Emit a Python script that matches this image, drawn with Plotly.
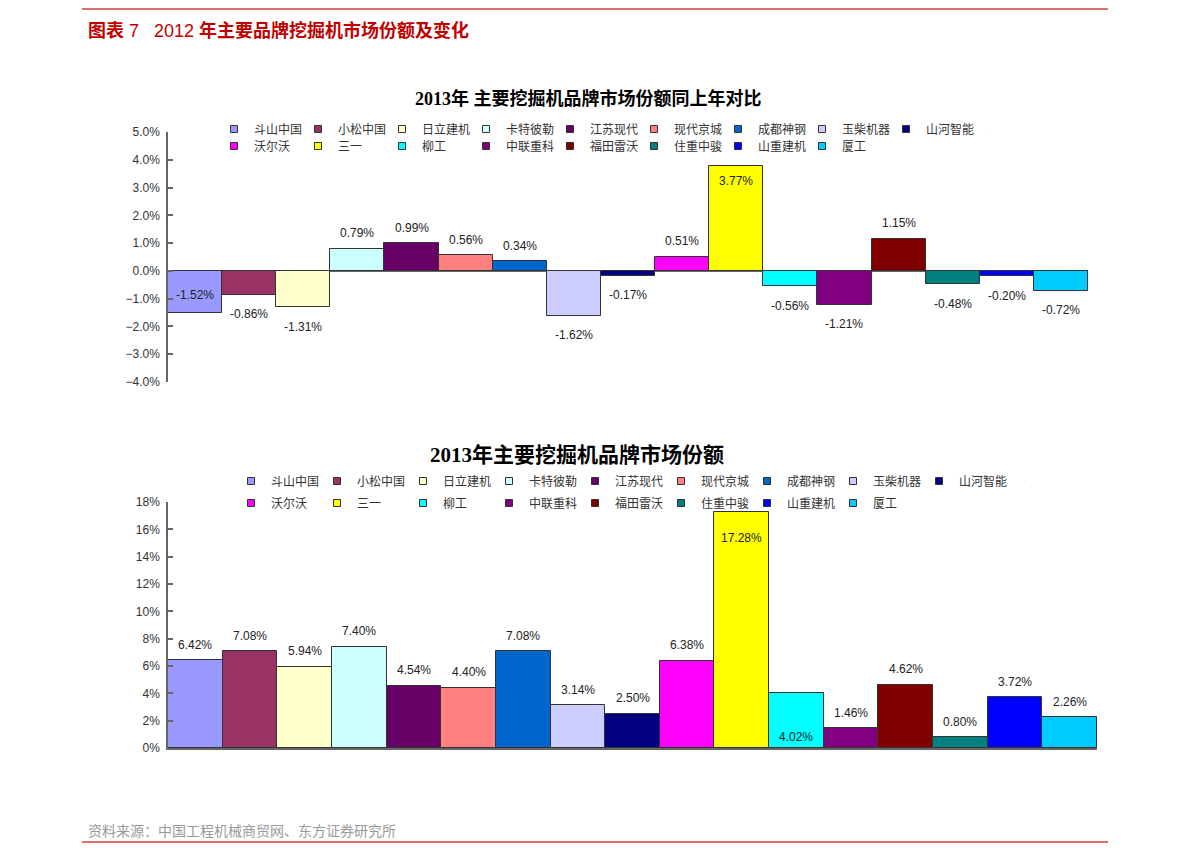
import plotly.graph_objects as go

# ---------------- data ----------------
brands = ["斗山中国", "小松中国", "日立建机", "卡特彼勒", "江苏现代", "现代京城",
          "成都神钢", "玉柴机器", "山河智能", "沃尔沃", "三一", "柳工",
          "中联重科", "福田雷沃", "住重中骏", "山重建机", "厦工"]
share_change = [-1.52, -0.86, -1.31, 0.79, 0.99, 0.56, 0.34, -1.62, -0.17,
                0.51, 3.77, -0.56, -1.21, 1.15, -0.48, -0.20, -0.72]
share_2013 = [6.42, 7.08, 5.94, 7.40, 4.54, 4.40, 7.08, 3.14, 2.50,
              6.38, 17.28, 4.02, 1.46, 4.62, 0.80, 3.72, 2.26]
top_title = "2013年 主要挖掘机品牌市场份额同上年对比"
bottom_title = "2013年主要挖掘机品牌市场份额"
header_text = "<b>图表</b> 7   2012 <b>年主要品牌挖掘机市场份额及变化</b>"
footer_text = "资料来源：中国工程机械商贸网、东方证券研究所"

# ---------------- style ----------------
colors = ["#9999FF", "#993366", "#FFFFCC", "#CCFFFF", "#660066", "#FF8080",
          "#0066CC", "#CCCCFF", "#000080", "#FF00FF", "#FFFF00", "#00FFFF",
          "#800080", "#800000", "#008080", "#0000FF", "#00CCFF"]
W, H = 1191, 859
def px_x(v): return v / W
def px_y(v): return 1 - v / H

CJK = "Noto Sans CJK SC"
ARIAL = "Liberation Sans, Arial, " + CJK
label_font = dict(family=ARIAL, size=12, color="#222")
# per-label pixel shifts (default: above positive, below negative)
top_shift_override = {0: 18, 10: -15}
bottom_shift_override = {10: -26, 11: None}

fig = go.Figure()

for i, b in enumerate(brands):
    fig.add_trace(go.Bar(x=[b], y=[share_change[i]], width=1,
                         marker=dict(color=colors[i], line=dict(color="#333", width=1)),
                         showlegend=False, xaxis="x", yaxis="y", hoverinfo="skip"))
    fig.add_trace(go.Bar(x=[b], y=[share_2013[i]], width=1,
                         marker=dict(color=colors[i], line=dict(color="#333", width=1)),
                         showlegend=False, xaxis="x2", yaxis="y2", hoverinfo="skip"))

# legend entries (small squares)
for i, b in enumerate(brands):
    mk = dict(symbol="square", size=7, color=colors[i], line=dict(color="#333", width=1))
    fig.add_trace(go.Scatter(x=[None], y=[None], mode="markers", marker=mk, name=b,
                             legend="legend" if i < 9 else "legend2",
                             xaxis="x", yaxis="y", hoverinfo="skip"))
    fig.add_trace(go.Scatter(x=[None], y=[None], mode="markers", marker=mk, name=b,
                             legend="legend3" if i < 9 else "legend4",
                             xaxis="x2", yaxis="y2", hoverinfo="skip"))
# blank spacer entries so the last name in the first rows is not clipped
for lg, ax, ay in (("legend", "x", "y"), ("legend3", "x2", "y2")):
    fig.add_trace(go.Scatter(x=[None], y=[None], mode="markers", name=" ",
                             marker=dict(size=1, opacity=0), legend=lg,
                             xaxis=ax, yaxis=ay, hoverinfo="skip"))

annotations = []
for i, b in enumerate(brands):
    v = share_change[i]
    s = top_shift_override.get(i, 15.5 if v >= 0 else -19.5)
    annotations.append(dict(x=b, y=v, xref="x", yref="y", yshift=s, showarrow=False,
                            text=f"{v:.2f}%", font=label_font, yanchor="middle"))
    v2 = share_2013[i]
    if i in bottom_shift_override and bottom_shift_override[i] is None:
        annotations.append(dict(x=b, y=0, xref="x2", yref="y2", yshift=11, showarrow=False,
                                text=f"{v2:.2f}%", font=label_font, yanchor="middle"))
    else:
        s2 = bottom_shift_override.get(i, 15.5)
        annotations.append(dict(x=b, y=v2, xref="x2", yref="y2", yshift=s2, showarrow=False,
                                text=f"{v2:.2f}%", font=label_font, yanchor="middle"))

annotations += [
    dict(x=px_x(588), y=px_y(99), xref="paper", yref="paper", text=f"<b>{top_title}</b>",
         showarrow=False, font=dict(family="Liberation Serif, " + CJK, size=18, color="#000"),
         xanchor="center", yanchor="middle"),
    dict(x=px_x(577), y=px_y(455), xref="paper", yref="paper", text=f"<b>{bottom_title}</b>",
         showarrow=False, font=dict(family="Liberation Serif, " + CJK, size=21, color="#000"),
         xanchor="center", yanchor="middle"),
    dict(x=px_x(86), y=px_y(30), xref="paper", yref="paper", text=header_text,
         showarrow=False, font=dict(family=ARIAL, size=18, color="#C00000"),
         xanchor="left", yanchor="middle"),
    dict(x=px_x(86), y=px_y(830), xref="paper", yref="paper", text=footer_text,
         showarrow=False, font=dict(family=CJK, size=14, color="#999"),
         xanchor="left", yanchor="middle"),
]

shapes = [
    dict(type="line", xref="paper", yref="paper", x0=px_x(82), x1=px_x(1108),
         y0=px_y(9), y1=px_y(9), line=dict(color="#E07070", width=2)),
    dict(type="line", xref="paper", yref="paper", x0=px_x(82), x1=px_x(1108),
         y0=px_y(842), y1=px_y(842), line=dict(color="#E07070", width=2)),
]

tick_font = dict(family=ARIAL, size=12, color="#333")
axis_common = dict(showgrid=False, showline=True, linecolor="#666", linewidth=1.5,
                   ticks="inside", ticklen=5, tickcolor="#666", tickwidth=1.5,
                   tickfont=tick_font, ticklabelstandoff=4, automargin=False)

leg_font = dict(family=CJK, size=12, color="#333")
def leg(x, y, ew):
    return dict(orientation="h", x=px_x(x), y=px_y(y), xanchor="left", yanchor="middle",
                xref="paper", yref="paper", entrywidth=ew, entrywidthmode="pixels",
                font=leg_font, bgcolor="rgba(0,0,0,0)", traceorder="normal",
                itemwidth=30, tracegroupgap=0)

fig.update_layout(
    width=W, height=H, margin=dict(l=0, r=0, t=0, b=0, pad=0, autoexpand=False),
    paper_bgcolor="white", plot_bgcolor="white",
    barmode="overlay", bargap=0,
    xaxis=dict(domain=[px_x(168), px_x(1088)], anchor="y", type="category",
               range=[-0.5, 16.5], showticklabels=False, showgrid=False,
               showline=False, zeroline=False, ticks="", automargin=False),
    yaxis=dict(domain=[px_y(382), px_y(132)], anchor="x", range=[-4, 5], dtick=1,
               tickformat=".1f", ticksuffix="%", zeroline=True, zerolinecolor="#666",
               zerolinewidth=1.5, **axis_common),
    xaxis2=dict(domain=[px_x(168), px_x(1097)], anchor="y2", type="category",
                range=[-0.5, 16.5], showticklabels=False, showgrid=False,
                showline=True, linecolor="#666", linewidth=1.5, zeroline=False, ticks="",
                automargin=False),
    yaxis2=dict(domain=[px_y(748), px_y(502)], anchor="x2", range=[0, 18], dtick=2,
                tickformat="d", ticksuffix="%", zeroline=False, **axis_common),
    legend=leg(214, 129, 39), legend2=leg(214, 146, 39),
    legend3=leg(231, 481, 41), legend4=leg(231, 503, 41),
    annotations=annotations, shapes=shapes,
)

fig.write_html("out.html")
